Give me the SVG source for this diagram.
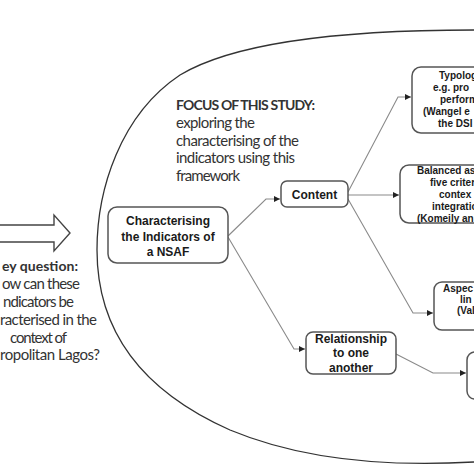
<svg xmlns="http://www.w3.org/2000/svg" width="474" height="474" viewBox="0 0 474 474">
<style>
.node rect{fill:#fff;stroke:#555;stroke-width:1.5}
.bt{font-family:"Liberation Sans",Arial,sans-serif;font-weight:bold;fill:#1a1a1a}
.b12{font-size:12px;text-anchor:middle}
.b10{font-size:10px}
.ct{font-family:Lato,"Open Sans",sans-serif;font-size:15px;fill:#333}
.hd{font-size:14px;font-weight:bold}
.conn path{fill:none;stroke:#8a8a8a;stroke-width:1.1}
</style>
<defs>
<marker id="ah" markerUnits="userSpaceOnUse" markerWidth="7" markerHeight="7" refX="6" refY="3.5" orient="auto">
<path d="M0,0.5 L6,3.5 L0,6.5 Z" fill="#222"/>
</marker>
</defs>
<rect width="474" height="474" fill="#fff"/>
<path id="scope" d="M 474,30 C 330,30 230,45 180,75 C 120,115 97,190 97,250 C 97,330 140,390 230,430 C 290,455 370,468 474,462" fill="none" stroke="#333" stroke-width="1.3"/>
<g id="bigArrow"><path d="M -5,225 L 54,225 L 54,215 L 70,233 L 54,251 L 54,242 L -5,242 Z" fill="#fff" stroke="#444" stroke-width="1.4"/></g>
<g id="keyQuestion">
<text class="ct hd" x="2" y="271" textLength="76">ey question:</text>
<text class="ct" x="2" y="289" textLength="78">ow can these</text>
<text class="ct" x="3" y="307" textLength="71">ndicators be</text>
<text class="ct" x="0" y="325" textLength="97">racterised in the</text>
<text class="ct" x="10" y="343" textLength="57">context of</text>
<text class="ct" x="0" y="360" textLength="100">ropolitan Lagos?</text>
</g>
<g id="focus">
<text class="ct hd" x="176" y="110" textLength="139">FOCUS OF THIS STUDY:</text>
<text class="ct" x="176" y="127.5" textLength="79">exploring the</text>
<text class="ct" x="176" y="145.5" textLength="123">characterising of the</text>
<text class="ct" x="176" y="163" textLength="119">indicators using this</text>
<text class="ct" x="176" y="181" textLength="64">framework</text>
</g>
<g class="conn">
<path d="M 228,236 L 266,199 L 280,199" marker-end="url(#ah)"/>
<path d="M 228,237 L 294,349 L 305,349" marker-end="url(#ah)"/>
<path d="M 348,192 L 398,97 L 411,97" marker-end="url(#ah)"/>
<path d="M 348,195 L 399,195" marker-end="url(#ah)"/>
<path d="M 348,199 L 413,313 L 433,313" marker-end="url(#ah)"/>
<path d="M 396,354 L 433,373 L 466,373" marker-end="url(#ah)"/>
</g>
<g id="characterising" class="node">
<rect x="108" y="207" width="120" height="56" rx="9"/>
<text class="bt b12" x="168" y="225">Characterising</text>
<text class="bt b12" x="168" y="240.5">the Indicators of</text>
<text class="bt b12" x="168" y="256">a NSAF</text>
</g>
<g id="content" class="node">
<rect x="281" y="181" width="67" height="26" rx="6"/>
<text class="bt b12" x="314.5" y="198.5">Content</text>
</g>
<g id="relationship" class="node">
<rect x="306" y="332" width="90" height="42" rx="7"/>
<text class="bt b12" x="351" y="343">Relationship</text>
<text class="bt b12" x="351" y="357">to one</text>
<text class="bt b12" x="351" y="371.5">another</text>
</g>
<g id="typology" class="node">
<rect x="412" y="67" width="100" height="66" rx="9"/>
<text class="bt b10" x="439" y="79">Typolog</text>
<text class="bt b10" x="433" y="91">e.g. pro</text>
<text class="bt b10" x="440" y="103">perform</text>
<text class="bt b10" x="423" y="115">(Wangel e</text>
<text class="bt b10" x="438" y="127">the DSI</text>
</g>
<g id="balanced" class="node">
<rect x="400" y="165" width="110" height="58" rx="9"/>
<text class="bt b10" x="417" y="173.5">Balanced as</text>
<text class="bt b10" x="430" y="185.5">five criter</text>
<text class="bt b10" x="439" y="197.5">contex</text>
<text class="bt b10" x="432" y="209.5">integratio</text>
<text class="bt b10" x="417" y="221.5">(Komeily an</text>
</g>
<g id="aspects" class="node">
<rect x="434" y="282" width="80" height="48" rx="8"/>
<text class="bt b10" x="443" y="292">Aspec</text>
<text class="bt b10" x="460" y="303">lin</text>
<text class="bt b10" x="457" y="314">(Val</text>
</g>
<g id="lastBox" class="node">
<rect x="467" y="352" width="60" height="47" rx="8"/>
</g>
</svg>
